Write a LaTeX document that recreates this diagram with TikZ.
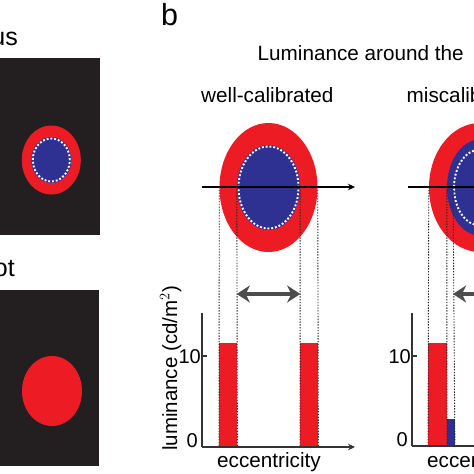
\documentclass[tikz,border=0pt]{standalone}
\usepackage{fontspec}
\setmainfont{Liberation Sans}
\usetikzlibrary{arrows.meta,positioning,calc,shapes.geometric}
\definecolor{spotred}{RGB}{237,28,36}
\definecolor{spotblue}{RGB}{46,49,146}
\definecolor{screenblack}{RGB}{35,31,32}
\definecolor{spangray}{RGB}{77,77,77}

\tikzset{
    redspot/.style={ellipse, fill=spotred, inner sep=0pt},
    bluespot/.style={ellipse, fill=spotblue, inner sep=0pt},
    whitering/.style={ellipse, draw=white, line width=1.9pt, dash pattern=on 1.9pt off 1.9pt, inner sep=0pt},
    guide/.style={draw=black!85, line width=0.9pt, dash pattern=on 1.4pt off 1.4pt},
    axisline/.style={draw=black!80, line width=1.3pt},
    scanline/.style={draw=black, line width=1.2pt, -{Stealth[length=7pt,width=6.5pt]}},
    spanarrow/.style={draw=spangray, line width=3.2pt, {Stealth[length=13pt,width=17pt,inset=4pt]}-{Stealth[length=13pt,width=17pt,inset=4pt]}},
    barbox/.style={rectangle, inner sep=0pt, anchor=south west},
    lbl/.style={inner sep=0pt, font=\fontsize{20.7}{24}\selectfont},
}

\begin{document}
\begin{tikzpicture}[x=1pt, y=-1pt]
    \useasboundingbox (0,0) rectangle (474,474);
    \clip (0,0) rectangle (474,474);

    % Panel a: stimulus and spot
    \node[inner sep=0pt, anchor=base east, font=\fontsize{25}{30}\selectfont] (stimtitle) at (18,45) {Stimulus};
    \node[inner sep=0pt, anchor=base east, font=\fontsize{25}{30}\selectfont] (spottitle) at (15,276) {Spot};
    \fill[screenblack] (-10,58) rectangle (100,235);
    \fill[screenblack] (-10,290) rectangle (99,466);
    \node[redspot, minimum width=59pt, minimum height=69pt] (stimred) at (51.3,160) {};
    \node[bluespot, minimum width=40pt, minimum height=46pt] (stimblue) at (51.3,160) {};
    \node[whitering, minimum width=37pt, minimum height=43pt] (stimring) at (51.3,160) {};
    \node[redspot, minimum width=60pt, minimum height=70pt] (spotred) at (52,391) {};

    % Panel b: titles
    \node[inner sep=0pt, anchor=base west, font=\fontsize{30.5}{34}\selectfont] (panelb) at (161,25) {b};
    \node[lbl, anchor=base west] (lumtitle) at (257.5,60) {Luminance around the};
    \node[lbl, anchor=base west] (welltitle) at (201,102) {well-calibrated};
    \node[lbl, anchor=base west] (mistitle) at (406.5,102) {miscalibrated};

    % Well-calibrated spot
    \node[redspot, minimum width=98pt, minimum height=129pt] (wellred) at (268.5,187.5) {};
    \node[bluespot, minimum width=63pt, minimum height=85pt] (wellblue) at (268.5,187.5) {};
    \node[whitering, minimum width=60pt, minimum height=82pt] (wellring) at (268.5,187.5) {};
    \coordinate (wellscanA) at (202,187);
    \coordinate (wellscanB) at (355,187);
    \draw[scanline] (wellscanA) -- (wellscanB);

    % Miscalibrated spot
    \node[redspot, minimum width=102pt, minimum height=129pt] (misred) at (480,187.5) {};
    \node[bluespot, minimum width=66pt, minimum height=96pt] (misblue) at (480,187.5) {};
    \node[whitering, minimum width=52pt, minimum height=76pt] (misring) at (480,187.5) {};
    \coordinate (misscanA) at (408,187);
    \coordinate (misscanB) at (540,187);
    \draw[scanline] (misscanA) -- (misscanB);

    % Luminance profiles
    \coordinate (wellorigin) at (202,447);
    \coordinate (welltop) at (202,313);
    \coordinate (wellend) at (355,447);
    \coordinate (misorigin) at (412,446);
    \coordinate (mistop) at (412,313);
    \coordinate (misend) at (540,446);

    \node[barbox, fill=spotred, minimum width=18pt, minimum height=104pt] (wellbarL) at (219,447) {};
    \node[barbox, fill=spotred, minimum width=18pt, minimum height=104pt] (wellbarR) at (300,447) {};
    \node[barbox, fill=spotred, minimum width=19pt, minimum height=103pt] (misbarR) at (428,446) {};
    \node[barbox, fill=spotblue, minimum width=7.5pt, minimum height=27pt] (misbarB) at (447,446) {};

    % Guides from spot edges down to the bars
    \draw[guide] (wellscanA -| wellred.west) -- (wellbarL.south west);
    \draw[guide] (wellscanA -| wellblue.west) -- (wellbarL.south east);
    \draw[guide] (wellscanA -| wellblue.east) -- (wellbarR.south west);
    \draw[guide] (wellscanA -| wellred.east) -- (wellbarR.south east);
    \draw[guide] (misscanA -| misred.west) -- (misbarR.south west);
    \draw[guide] (misscanA -| misblue.west) -- (misbarB.south west);
    \draw[guide] (misscanA -| misring.west) -- (misbarB.south east);

    % Span arrows
    \draw[spanarrow] (wellblue.west |- 0,294) -- (wellblue.east |- 0,294);
    \draw[spanarrow] (misring.west |- 0,294) -- (520,294);

    % Axes
    \draw[axisline] (welltop) -- (wellorigin);
    \draw[axisline, -{Stealth[length=7pt,width=6.5pt]}] (wellorigin) -- (wellend);
    \draw[axisline] (mistop) -- (misorigin);
    \draw[axisline, -{Stealth[length=7pt,width=6.5pt]}] (misorigin) -- (misend);
    \foreach \ax/\ay/\name in {202/447/well, 412/446/mis} {
        \draw[axisline] (\ax,356) -- (\ax+5,356);
        \node[inner sep=0pt, anchor=base east, font=\fontsize{20}{24}\selectfont] (\name ten) at (\ax-1,363) {10};
        \node[inner sep=0pt, anchor=base east, font=\fontsize{20}{24}\selectfont] (\name zero) at (\ax-4,\ay) {0};
    }
    \node[lbl, anchor=base west] (wellxlabel) at (217,467) {eccentricity};
    \node[lbl, anchor=base west] (misxlabel) at (427,467) {eccentricity};
    \node[inner sep=0pt, anchor=base, rotate=90, font=\fontsize{20.5}{24}\selectfont] (ylabel) at (177,368.5) {luminance (cd/m$^2$)};

\end{tikzpicture}
\end{document}
